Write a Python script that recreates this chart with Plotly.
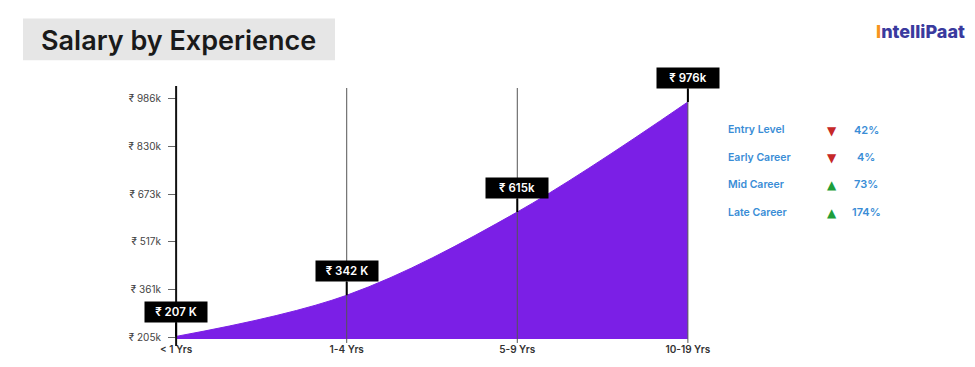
import plotly.graph_objects as go

# ---------------- data ----------------
categories = ["< 1 Yrs", "1-4 Yrs", "5-9 Yrs", "10-19 Yrs"]
salary_k = [207, 342, 615, 976]
value_labels = ["₹ 207 K", "₹ 342 K", "₹ 615k", "₹ 976k"]
y_tick_vals = [205, 361, 517, 673, 830, 986]
y_tick_text = [f"₹ {v}k" for v in y_tick_vals]
stage_names = ["Entry Level", "Early Career", "Mid Career", "Late Career"]
stage_change_pct = [42, 4, 73, 174]
stage_direction = ["down", "down", "up", "up"]

# ---------------- layout geometry ----------------
OFF = 8  # page body margin offset
W, H = 975 - OFF, 367 - OFF
# target page pixel positions
P_LEFT, P_RIGHT, P_TOP, P_BOTTOM = 142, 722, 88, 341
ML, MT = P_LEFT - OFF, P_TOP - OFF
MR, MB = W - (P_RIGHT - OFF), H - (P_BOTTOM - OFF)
PW, PH = P_RIGHT - P_LEFT, P_BOTTOM - P_TOP


def px(x):
    return (x - P_LEFT) / PW


def py(y):
    return (P_BOTTOM - y) / PH


FONT = "Inter"
PURPLE = "#7B1FE6"

fig = go.Figure()
fig.add_trace(go.Scatter(
    x=categories, y=salary_k, mode="lines",
    line=dict(color=PURPLE, width=1, shape="spline", smoothing=1.0),
    fill="tozeroy", fillcolor=PURPLE, hoverinfo="skip", showlegend=False,
))

shapes = []
# title box
shapes.append(dict(type="rect", xref="paper", yref="paper",
                   x0=px(23), x1=px(335), y0=py(60), y1=py(18),
                   fillcolor="#E6E6E6", line=dict(width=0), layer="below"))
# vertical guide lines
for i, c in enumerate(categories):
    if i == 0:
        shapes.append(dict(type="line", xref="x", yref="paper", x0=c, x1=c,
                           y0=py(348), y1=py(86), line=dict(color="#111111", width=2)))
    else:
        shapes.append(dict(type="line", xref="x", yref="paper", x0=c, x1=c,
                           y0=py(345), y1=py(88), line=dict(color="#555555", width=1),
                           layer="above"))

annotations = []
# title
annotations.append(dict(xref="paper", yref="paper", x=px(39), y=py(40),
                        xanchor="left", yanchor="middle", showarrow=False,
                        text="Salary by Experience",
                        font=dict(family=FONT, size=27, color="#1A1A1A", weight=600)))
# logo
annotations.append(dict(xref="paper", yref="paper", x=px(967), y=py(31),
                        xanchor="right", yanchor="middle", showarrow=False,
                        text="<span style='color:#F7941D'>I</span>ntelliPaat",
                        font=dict(family=FONT, size=18, color="#3A3A9E", weight=800)))
# value callouts
for c, v, lab in zip(categories, salary_k, value_labels):
    annotations.append(dict(x=c, y=v, xref="x", yref="y", text=lab,
                            showarrow=True, arrowhead=0, arrowwidth=2, arrowcolor="#000000",
                            ax=0, ay=-24, bgcolor="#000000", borderpad=3,
                            width=56,
                            font=dict(family=FONT, size=11.5, color="#FFFFFF", weight=600)))
# stage legend panel
row_y = [130, 158, 185, 213]
for name, pct, d, yy in zip(stage_names, stage_change_pct, stage_direction, row_y):
    annotations.append(dict(xref="paper", yref="paper", x=px(726), y=py(yy),
                            xanchor="left", yanchor="middle", showarrow=False,
                            text=name,
                            font=dict(family=FONT, size=10.5, color="#3A8DD6", weight=600)))
    annotations.append(dict(xref="paper", yref="paper", x=px(832), y=py(yy + 1),
                            xanchor="center", yanchor="middle", showarrow=False,
                            text="▼" if d == "down" else "▲",
                            font=dict(family="DejaVu Sans", size=12,
                                      color="#C62828" if d == "down" else "#1E9E3A")))
    annotations.append(dict(xref="paper", yref="paper", x=px(866), y=py(yy),
                            xanchor="center", yanchor="middle", showarrow=False,
                            text=f"{pct}%",
                            font=dict(family=FONT, size=11, color="#3A8DD6", weight=600)))

# y range: 205k at y=339px, 986k at y=99px
k_per_px = (986 - 205) / (339 - 99)
y_lo = 205 - (P_BOTTOM - 339) * k_per_px
y_hi = 986 + (99 - P_TOP) * k_per_px

fig.update_layout(
    width=W, height=H,
    margin=dict(l=ML, r=MR, t=MT, b=MB),
    paper_bgcolor="#FFFFFF", plot_bgcolor="#FFFFFF",
    shapes=shapes, annotations=annotations,
    xaxis=dict(type="category", range=[-0.2, 3.2], showgrid=False, zeroline=False,
               showline=False, ticks="", ticklabelstandoff=3,
               tickfont=dict(family=FONT, size=10, color="#333333", weight=600)),
    yaxis=dict(range=[y_lo, y_hi], anchor="free", position=px(176),
               tickvals=y_tick_vals, ticktext=y_tick_text,
               showgrid=False, zeroline=False, showline=False,
               ticks="outside", ticklen=8, tickcolor="#666666", ticklabelstandoff=5,
               tickfont=dict(family=FONT, size=10, color="#444444")),
    showlegend=False,
)

fig.write_html("out.html")
